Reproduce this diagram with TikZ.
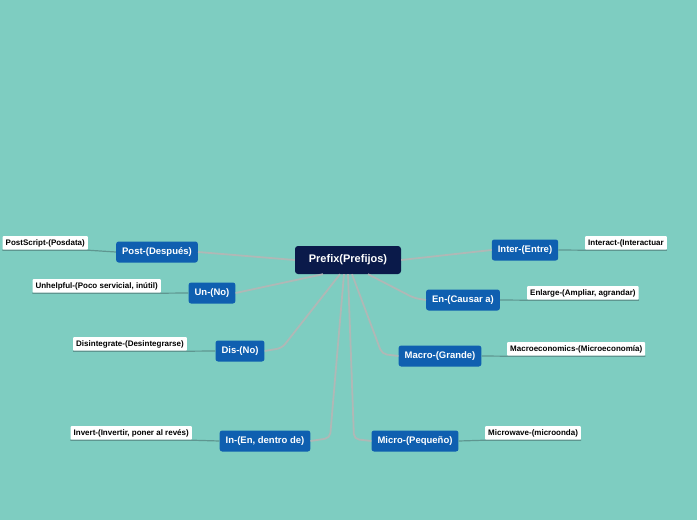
\documentclass[tikz,border=0pt]{standalone}
\usepackage{fontspec}
\setmainfont{Liberation Sans}
\begin{document}
\begin{tikzpicture}[x=1pt,y=-1pt,
 branch/.style={fill=brc,rounded corners=2.5pt,text=white,font=\bfseries\fontsize{9.5}{11}\selectfont,minimum height=21pt,inner xsep=6pt},
 leaf/.style={fill=white,rounded corners=1pt,text=black,font=\bfseries\fontsize{8}{9}\selectfont,minimum height=14pt,inner xsep=3pt,inner ysep=1pt},
 conn/.style={draw=cgray,line width=1.8pt,rounded corners=5pt},
 lconn/.style={draw=lgray,line width=1.2pt}]
\definecolor{bg}{HTML}{7ECDC1}\definecolor{brc}{HTML}{0F5FB0}\definecolor{rootc}{HTML}{0A1A4A}
\definecolor{cgray}{HTML}{B0B8B6}\definecolor{lgray}{HTML}{5E9690}
\fill[bg] (0,0) rectangle (697,520);
\useasboundingbox (0,0) rectangle (697,520);
\node[fill=rootc,rounded corners=3pt,text=white,font=\bfseries\fontsize{11}{13}\selectfont,minimum width=106pt,minimum height=28pt] (root) at (348,260) {Prefix(Prefijos)};
\node[branch] (post) at (157,252) {Post-(Después)};
\node[branch] (un) at (212,293) {Un-(No)};
\node[branch] (dis) at (240,351) {Dis-(No)};
\node[branch] (in) at (265,441) {In-(En, dentro de)};
\node[branch] (inter) at (525,250) {Inter-(Entre)};
\node[branch] (en) at (463,300) {En-(Causar a)};
\node[branch] (macro) at (440,356) {Macro-(Grande)};
\node[branch] (micro) at (415,441) {Micro-(Pequeño)};
\node[leaf,anchor=east] (l1) at (88,243) {PostScript-(Posdata)};
\node[leaf,anchor=east] (l2) at (161,286) {Unhelpful-(Poco servicial, inútil)};
\node[leaf,anchor=east] (l3) at (187,344) {Disintegrate-(Desintegrarse)};
\node[leaf,anchor=east] (l4) at (192,433) {Invert-(Invertir, poner al revés)};
\node[leaf,anchor=west] (l5) at (585,243) {Interact-(Interactuar};
\node[leaf,anchor=west] (l6) at (527,293) {Enlarge-(Ampliar, agrandar)};
\node[leaf,anchor=west] (l7) at (507,349) {Macroeconomics-(Microeconomía)};
\node[leaf,anchor=west] (l8) at (485,433) {Microwave-(microonda)};
% root connectors
\begin{scope}[on background layer/.try]
\draw[conn] (root.west) -- (post.east);
\draw[conn] ([xshift=-25pt]root.south) -- (un.east);
\draw[conn] ([xshift=-8pt]root.south) -- (282,348) -- (dis.east);
\draw[conn] ([xshift=-4pt]root.south) -- (330,438) -- (in.east);
\draw[conn] (root.east) -- (inter.west);
\draw[conn] ([xshift=20pt]root.south) -- (414,298) -- (en.west);
\draw[conn] ([xshift=4pt]root.south) -- (382,354) -- (macro.west);
\draw[conn] ([xshift=0pt]root.south) -- (354,439) -- (micro.west);
\end{scope}
\draw[lconn] (post.west) -- (l1.south east) -- (l1.south west);
\draw[lconn] (un.west) -- (l2.south east) -- (l2.south west);
\draw[lconn] (dis.west) -- (l3.south east) -- (l3.south west);
\draw[lconn] (in.west) -- (l4.south east) -- (l4.south west);
\draw[lconn] (inter.east) -- (l5.south west) -- (l5.south east);
\draw[lconn] (en.east) -- (l6.south west) -- (l6.south east);
\draw[lconn] (macro.east) -- (l7.south west) -- (l7.south east);
\draw[lconn] (micro.east) -- (l8.south west) -- (l8.south east);
% redraw nodes on top
\foreach \n in {root,post,un,dis,in,inter,en,macro,micro}{}
\end{tikzpicture}
\end{document}
